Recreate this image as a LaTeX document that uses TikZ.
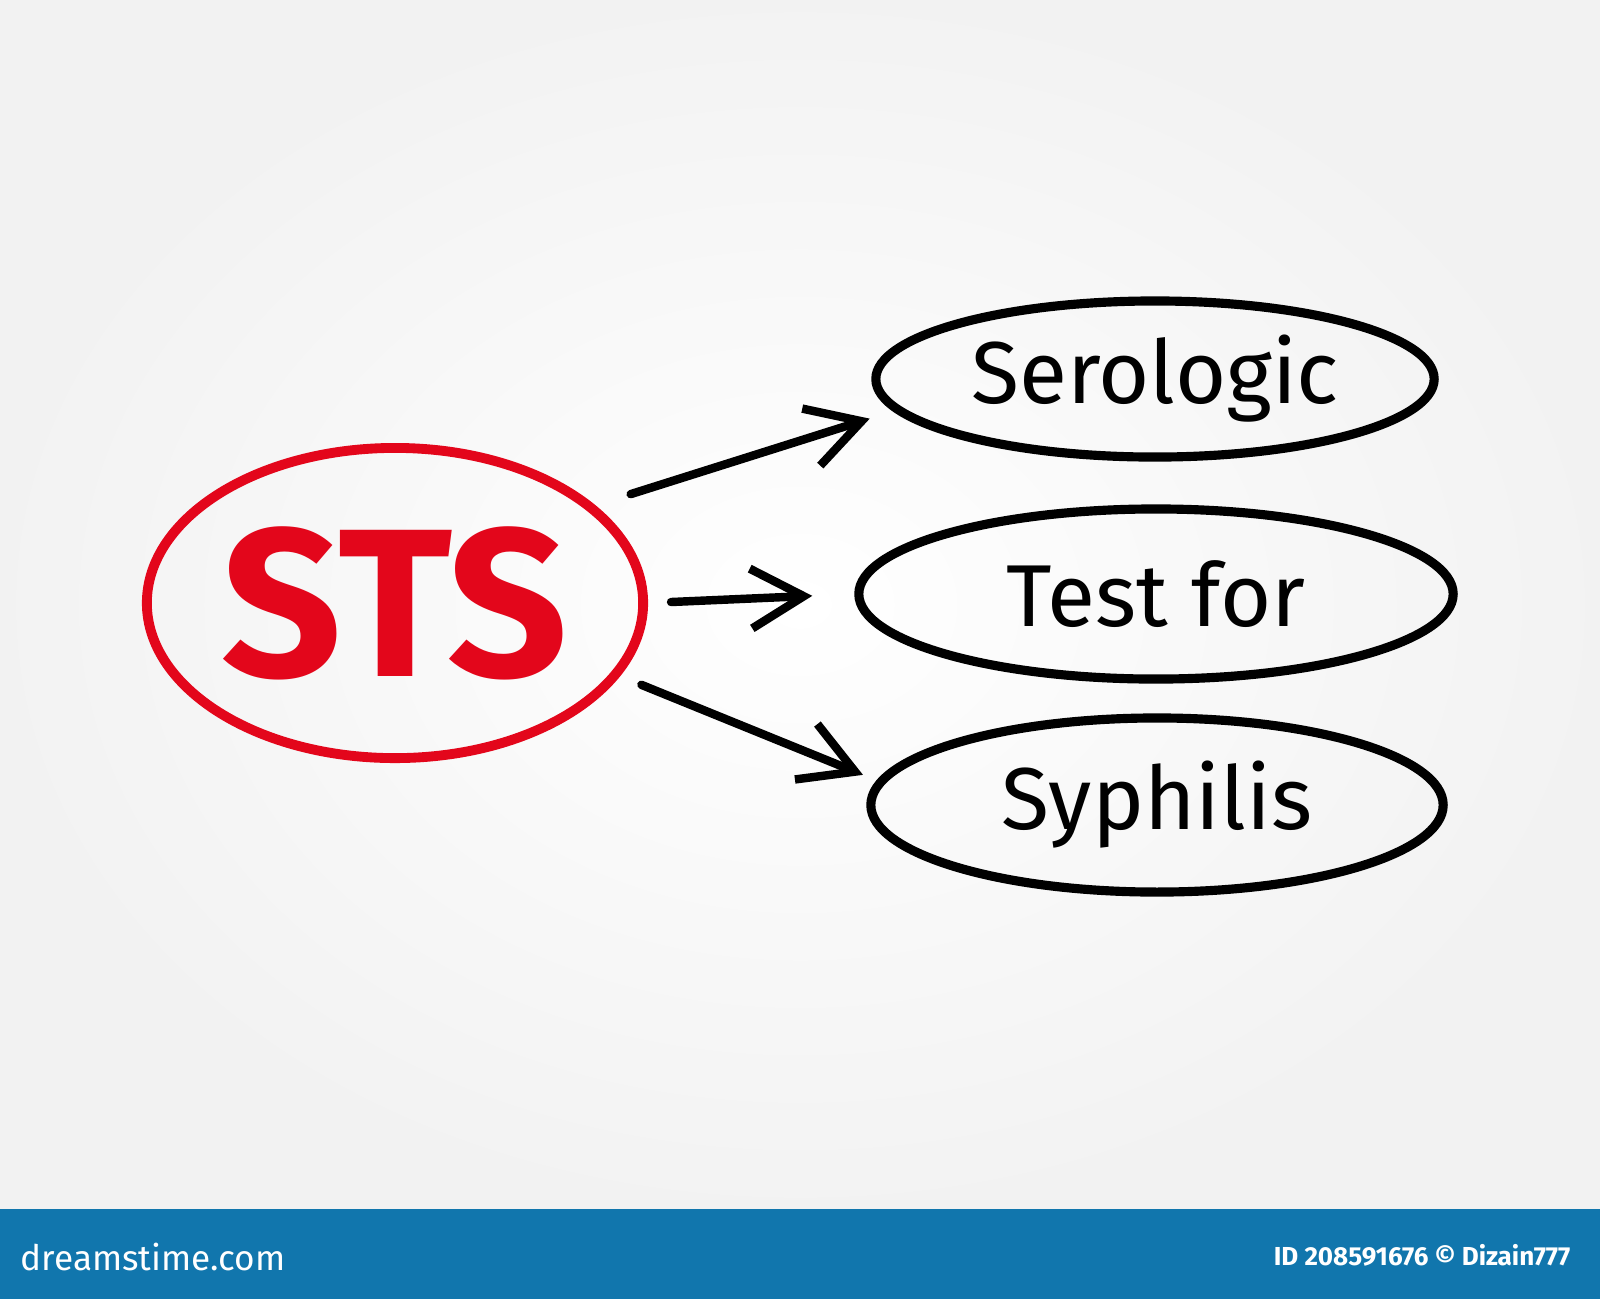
\documentclass[tikz,border=0pt]{standalone}
\usepackage{fontspec}
\setmainfont{Fira Sans}
\usetikzlibrary{arrows.meta,shapes.geometric}

\definecolor{stsred}{RGB}{227,6,27}
\definecolor{barblue}{RGB}{17,118,173}

\begin{document}
\begin{tikzpicture}[x=0.01cm,y=-0.01cm,
    bubble/.style={draw=black, line width=2.6pt, ellipse, inner sep=0pt, font=\fontsize{25}{30}\selectfont},
    pointer/.style={-{Straight Barb[length=15pt,width=17pt,line width=2.4pt]}, line width=2.4pt, line cap=round}]

    \useasboundingbox (0,0) rectangle (1600,1299);
    \shade[inner color=white, outer color=black!5] (0,0) rectangle (1600,1209);
    \fill[barblue] (0,1209) rectangle (1600,1299);

    \node[ellipse, draw=stsred, line width=2.8pt, inner sep=0pt, minimum width=4.96cm, minimum height=3.10cm,
          text=stsred, font=\bfseries\fontsize{60}{70}\selectfont] at (395,603) (sts) {STS};

    \node[bubble, minimum width=5.58cm, minimum height=1.56cm] at (1155,379) (sero) {Serologic};
    \node[bubble, minimum width=5.94cm, minimum height=1.70cm] at (1156,594) (test) {Test for};
    \node[bubble, minimum width=5.72cm, minimum height=1.74cm] at (1157,805) (syph) {Syphilis};

    \draw[pointer, shorten <=0.37cm, shorten >=0.25cm] (sts.26) -- (sero.187);
    \draw[pointer, shorten <=0.23cm, shorten >=0.42cm] (sts.east) -- (test.west);
    \draw[pointer, shorten <=0.23cm, shorten >=0.15cm] (sts.-18) -- (syph.175);

    % footer
    \node[anchor=west, text=white, inner sep=0pt, font=\fontsize{10}{12}\selectfont] at (20,1257) (site) {dreamstime.com};
    \node[anchor=east, text=white, inner sep=0pt, font=\bfseries\fontsize{7.4}{9}\selectfont] at (1571,1255) (credit) {ID 208591676 © Dizain777};

\end{tikzpicture}
\end{document}
